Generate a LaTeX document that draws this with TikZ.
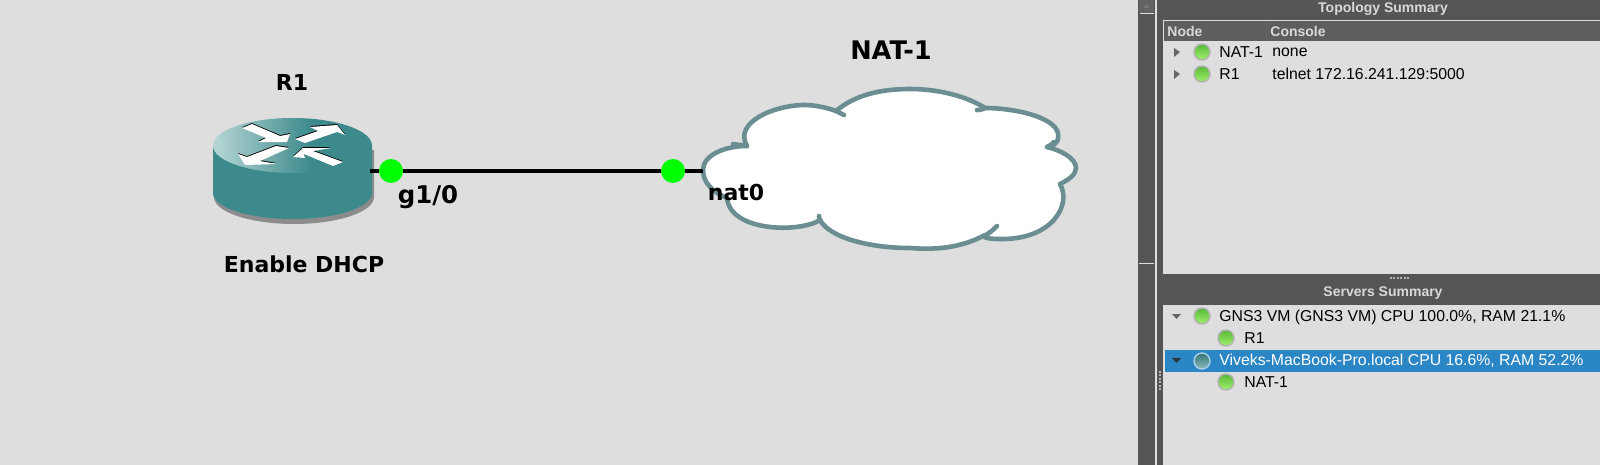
\documentclass[tikz,border=0pt]{standalone}
\usepackage{fontspec}
\setmainfont{Liberation Sans}
\newfontfamily\labelfont{DejaVu Sans}
\usepackage{tikz}

\definecolor{canvas}{HTML}{DEDEDE}
\definecolor{paneldark}{HTML}{555555}
\definecolor{headdark}{HTML}{5E5E5E}
\definecolor{thumb}{HTML}{626262}
\definecolor{routerteal}{HTML}{3C8A8B}
\definecolor{cloudline}{HTML}{6B8E93}
\definecolor{selblue}{HTML}{2B86C5}
\definecolor{ledtop}{HTML}{55B936}
\definecolor{ledlow}{HTML}{A4F070}

\pgfdeclarehorizontalshading{routertop}{100bp}{rgb(0bp)=(0.72,0.84,0.84); rgb(25bp)=(0.72,0.84,0.84); rgb(56bp)=(0.235,0.541,0.545); rgb(100bp)=(0.235,0.541,0.545)}

\tikzset{
  devlabel/.style={font=\labelfont\bfseries\fontsize{11}{13}\selectfont,text=black,inner sep=0pt},
  port/.style={draw=none,fill=green,circle,minimum size=12pt,inner sep=0pt},
  link/.style={line width=2.3pt,black},
  rowtext/.style={anchor=west,inner sep=0pt,font=\fontsize{7.9}{10}\selectfont,text=black},
  headtext/.style={anchor=west,inner sep=0pt,font=\bfseries\fontsize{7}{10}\selectfont,text=white!85!black},
  titletext/.style={inner sep=0pt,font=\bfseries\fontsize{7}{10}\selectfont,text=white!85!black},
  led/.style={circle,draw=black!30,line width=0.7pt,minimum size=8pt,inner sep=0pt,top color=ledtop,bottom color=ledlow},
  mutedled/.style={led,draw=white!60!selblue,top color=routerteal!85!black,bottom color=routerteal!60!white},
  arrowwhite/.style={fill=white,preaction={fill=black,transform canvas={yshift=0.45pt}}},
  cloudstroke/.style={cloudline,line width=2.3pt,line cap=round}
}

\begin{document}
\begin{tikzpicture}[x=0.5pt,y=-0.5pt]
  \useasboundingbox (0,0) rectangle (1600,465);
  \fill[canvas] (0,0) rectangle (1600,465);

  % right hand panels
  \fill[paneldark] (1138,0) rectangle (1600,465);
  \fill[canvas] (1155,0) rectangle (1157,465);
  \fill[thumb] (1139,0) rectangle (1154,13);
  \fill[canvas] (1139,263) rectangle (1154,264);
  \fill[canvas] (1140,13) rectangle (1154,14);
  \fill[black!55] (1146.5,4) -- (1143,8) -- (1150,8) -- cycle;

  \fill[canvas] (1163,20) rectangle (1600,274);
  \fill[headdark] (1164,21) rectangle (1600,41);
  \draw[black!60,line width=0.4pt] (1266,21) -- (1266,41);
  \fill[canvas] (1163,305) rectangle (1600,465);
  \fill[selblue] (1165,350) rectangle (1600,372);

  \node[titletext] (toptitle) at (1383,9) {Topology Summary};
  \node[titletext] (srvtitle) at (1383,293) {Servers Summary};
  \node[headtext] (hnode) at (1167,31) {Node};
  \node[headtext] (hconsole) at (1270,31) {Console};

  \fill[black!60] (1174,48) -- (1180,52) -- (1174,57) -- cycle;
  \fill[black!60] (1174,70) -- (1180,74) -- (1174,79) -- cycle;
  \fill[black!60] (1172,314) -- (1181,314) -- (1176.5,319) -- cycle;
  \fill[black!80] (1172,358) -- (1181,358) -- (1176.5,363) -- cycle;

  \node[led] (led0) at (1202,52) {};
  \node[led] (led1) at (1202,74) {};
  \node[led] (led2) at (1202,316) {};
  \node[led] (led3) at (1226,338) {};
  \node[mutedled] (led4) at (1202,361) {};
  \node[led] (led5) at (1226,382) {};

  \node[rowtext] (row0) at (1219,52) {NAT-1};
  \node[rowtext] (con0) at (1272,52) {none};
  \node[rowtext] (row1) at (1219,74) {R1};
  \node[rowtext] (con1) at (1272,74) {telnet 172.16.241.129:5000};
  \node[rowtext] (srv0) at (1219,317) {GNS3 VM (GNS3 VM) CPU 100.0\%, RAM 21.1\%};
  \node[rowtext] (srv1) at (1244,338) {R1};
  \node[rowtext,text=white] (srv2) at (1219,361) {Viveks-MacBook-Pro.local CPU 16.6\%, RAM 52.2\%};
  \node[rowtext] (srv3) at (1244,382) {NAT-1};

  % grips
  \foreach \k in {0,...,5} {
    \fill[black!30] (1390+\k*3.4,277) rectangle +(2,2);
    \fill[black!30] (1159,371+\k*3.4) rectangle +(2,2);
  }

  % router
  \fill[black!45] (215,150) -- (374,150) -- (374,197)
    arc[start angle=0,end angle=180,x radius=80,y radius=27] -- cycle;
  \fill[routerteal] (213,145) -- (372,145) -- (372,193)
    arc[start angle=0,end angle=180,x radius=79.5,y radius=26] -- cycle;
  \shade[shading=routertop] (292.5,145.5) ellipse [x radius=79.5,y radius=27.5];
  \fill[arrowwhite] (242,128) -- (252,124) -- (280,136) -- (290,134) -- (287,142) -- (258,142) -- (266,138) -- cycle;
  \fill[arrowwhite] (295,139) -- (318,131) -- (310,127) -- (337,125) -- (345,135) -- (337,132) -- (305,143) -- cycle;
  \fill[arrowwhite] (289,148) -- (276,146) -- (247,157) -- (238,154) -- (245,165) -- (277,164) -- (260,161) -- cycle;
  \fill[arrowwhite] (293,157) -- (303,148) -- (331,148) -- (313,151) -- (343,162) -- (333,166) -- (304,154) -- (305,158) -- cycle;

  % cloud
  \fill[white,draw=cloudline,line width=2.3pt,line join=round]
    (703,170) .. controls (703,155) and (725,146) .. (747,146)
    .. controls (733,122) and (775,105) .. (805,105)
    .. controls (815,105) and (828,108) .. (836,111)
    .. controls (855,95) and (880,89) .. (910,89)
    .. controls (940,89) and (968,97) .. (985,108)
    .. controls (1015,108) and (1062,118) .. (1058,138)
    .. controls (1058,142) and (1055,145) .. (1047,147)
    .. controls (1060,150) and (1076,158) .. (1076,168)
    .. controls (1076,175) and (1068,180) .. (1060,184)
    .. controls (1072,205) and (1052,240) .. (1000,239)
    .. controls (990,239) and (985,238) .. (983,236)
    .. controls (960,248) and (935,250) .. (910,248)
    .. controls (870,248) and (830,238) .. (820,220)
    .. controls (800,233) and (730,232) .. (727,198)
    .. controls (712,192) and (703,182) .. (703,170) -- cycle;
  \draw[cloudstroke] (733,144) .. controls (738,145) and (743,145) .. (747,146);
  \draw[cloudstroke] (836,111) .. controls (840,113) and (842,114) .. (844,115);
  \draw[cloudstroke] (985,108) .. controls (982,110) and (978,110) .. (977,110);
  \draw[cloudstroke] (1047,147) .. controls (1050,146) and (1052,144) .. (1054,142);
  \draw[cloudstroke] (820,220) .. controls (819,218) and (819,217) .. (819,216);
  \draw[cloudstroke] (983,236) .. controls (988,235) and (994,229) .. (997,226);

  % link
  \coordinate (r1port) at (370,171);
  \coordinate (natport) at (703,171);
  \node[port] (g1) at (391,171) {};
  \node[port] (nat0) at (673,171) {};
  \path [link] (r1port) edge (g1);
  \path [link] (g1) edge (nat0);
  \path [link] (nat0) edge (natport);

  \node[devlabel] (r1) at (292,82) {R1};
  \node[devlabel] (dhcp) at (304,264) {Enable DHCP};
  \node[devlabel,font=\labelfont\bfseries\fontsize{12.2}{13}\selectfont] (g1label) at (428,197) {g1/0};
  \node[devlabel,font=\labelfont\bfseries\fontsize{12.8}{13}\selectfont] (nat1) at (891,50) {NAT-1};
  \node[devlabel] (nat0label) at (736,192) {nat0};
\end{tikzpicture}
\end{document}
